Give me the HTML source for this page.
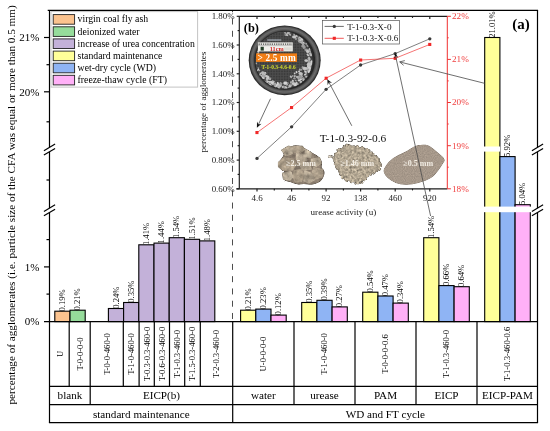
<!DOCTYPE html>
<html><head><meta charset="utf-8"><title>chart</title><style>html,body{margin:0;padding:0;background:#fff}svg{display:block}</style></head><body>
<svg width="550" height="431" viewBox="0 0 550 431" font-family='"Liberation Serif", serif'>
<rect width="550" height="431" fill="#fff"/>
<rect x="54.8" y="311.2" width="15.2" height="10.4" fill="#fbc38f" stroke="#000" stroke-width="1.1"/>
<rect x="70.0" y="310.2" width="15.2" height="11.4" fill="#96dc9b" stroke="#000" stroke-width="1.1"/>
<rect x="108.4" y="308.5" width="15.2" height="13.1" fill="#c3b1d9" stroke="#000" stroke-width="1.1"/>
<rect x="123.6" y="302.5" width="15.2" height="19.1" fill="#c3b1d9" stroke="#000" stroke-width="1.1"/>
<rect x="138.8" y="244.8" width="15.2" height="76.8" fill="#c3b1d9" stroke="#000" stroke-width="1.1"/>
<rect x="154.0" y="243.1" width="15.2" height="78.5" fill="#c3b1d9" stroke="#000" stroke-width="1.1"/>
<rect x="169.2" y="237.7" width="15.2" height="83.9" fill="#c3b1d9" stroke="#000" stroke-width="1.1"/>
<rect x="184.4" y="239.3" width="15.2" height="82.3" fill="#c3b1d9" stroke="#000" stroke-width="1.1"/>
<rect x="199.6" y="240.9" width="15.2" height="80.7" fill="#c3b1d9" stroke="#000" stroke-width="1.1"/>
<rect x="240.6" y="310.2" width="15.2" height="11.4" fill="#ffff99" stroke="#000" stroke-width="1.1"/>
<rect x="255.8" y="309.1" width="15.2" height="12.5" fill="#8fb4f4" stroke="#000" stroke-width="1.1"/>
<rect x="271.0" y="315.1" width="15.2" height="6.5" fill="#ffb0f7" stroke="#000" stroke-width="1.1"/>
<rect x="301.7" y="302.5" width="15.2" height="19.1" fill="#ffff99" stroke="#000" stroke-width="1.1"/>
<rect x="316.9" y="300.3" width="15.2" height="21.3" fill="#8fb4f4" stroke="#000" stroke-width="1.1"/>
<rect x="332.1" y="306.9" width="15.2" height="14.7" fill="#ffb0f7" stroke="#000" stroke-width="1.1"/>
<rect x="362.7" y="292.2" width="15.2" height="29.4" fill="#ffff99" stroke="#000" stroke-width="1.1"/>
<rect x="377.9" y="296.0" width="15.2" height="25.6" fill="#8fb4f4" stroke="#000" stroke-width="1.1"/>
<rect x="393.1" y="303.1" width="15.2" height="18.5" fill="#ffb0f7" stroke="#000" stroke-width="1.1"/>
<rect x="423.7" y="237.7" width="15.2" height="83.9" fill="#ffff99" stroke="#000" stroke-width="1.1"/>
<rect x="438.9" y="285.6" width="15.2" height="36.0" fill="#8fb4f4" stroke="#000" stroke-width="1.1"/>
<rect x="454.1" y="286.7" width="15.2" height="34.9" fill="#ffb0f7" stroke="#000" stroke-width="1.1"/>
<rect x="484.7" y="37.5" width="15.2" height="284.1" fill="#ffff99" stroke="#000" stroke-width="1.1"/>
<rect x="499.9" y="156.6" width="15.2" height="165.0" fill="#8fb4f4" stroke="#000" stroke-width="1.1"/>
<rect x="515.1" y="204.7" width="15.2" height="116.9" fill="#ffb0f7" stroke="#000" stroke-width="1.1"/>
<rect x="483" y="146.5" width="17.2" height="5.1" fill="#fff"/>
<rect x="483" y="206.6" width="48" height="5.6" fill="#fff"/>
<text transform="translate(64.9 311.5) rotate(-90)" font-size="8.6" fill="#000">0.19%</text>
<text transform="translate(80.1 310.5) rotate(-90)" font-size="8.6" fill="#000">0.21%</text>
<text transform="translate(118.5 308.8) rotate(-90)" font-size="8.6" fill="#000">0.24%</text>
<text transform="translate(133.7 302.8) rotate(-90)" font-size="8.6" fill="#000">0.35%</text>
<text transform="translate(148.9 245.1) rotate(-90)" font-size="8.6" fill="#000">1.41%</text>
<text transform="translate(164.1 243.4) rotate(-90)" font-size="8.6" fill="#000">1.44%</text>
<text transform="translate(179.3 238.0) rotate(-90)" font-size="8.6" fill="#000">1.54%</text>
<text transform="translate(194.5 239.6) rotate(-90)" font-size="8.6" fill="#000">1.51%</text>
<text transform="translate(209.7 241.2) rotate(-90)" font-size="8.6" fill="#000">1.48%</text>
<text transform="translate(250.7 310.5) rotate(-90)" font-size="8.6" fill="#000">0.21%</text>
<text transform="translate(265.9 309.4) rotate(-90)" font-size="8.6" fill="#000">0.23%</text>
<text transform="translate(281.1 315.4) rotate(-90)" font-size="8.6" fill="#000">0.12%</text>
<text transform="translate(311.8 302.8) rotate(-90)" font-size="8.6" fill="#000">0.35%</text>
<text transform="translate(327.0 300.6) rotate(-90)" font-size="8.6" fill="#000">0.39%</text>
<text transform="translate(342.2 307.2) rotate(-90)" font-size="8.6" fill="#000">0.27%</text>
<text transform="translate(372.8 292.5) rotate(-90)" font-size="8.6" fill="#000">0.54%</text>
<text transform="translate(388.0 296.3) rotate(-90)" font-size="8.6" fill="#000">0.47%</text>
<text transform="translate(403.2 303.4) rotate(-90)" font-size="8.6" fill="#000">0.34%</text>
<text transform="translate(433.8 238.0) rotate(-90)" font-size="8.6" fill="#000">1.54%</text>
<text transform="translate(449.0 285.9) rotate(-90)" font-size="8.6" fill="#000">0.66%</text>
<text transform="translate(464.2 287.0) rotate(-90)" font-size="8.6" fill="#000">0.64%</text>
<text transform="translate(494.8 37.8) rotate(-90)" font-size="8.6" fill="#000">21.01%</text>
<text transform="translate(510.0 156.9) rotate(-90)" font-size="8.6" fill="#000">5.92%</text>
<text transform="translate(525.2 205.0) rotate(-90)" font-size="8.6" fill="#000">5.04%</text>
<line x1="232.5" y1="11" x2="232.5" y2="321" stroke="#3a3a3a" stroke-width="0.9" stroke-dasharray="6 6.27" stroke-dashoffset="4.77"/>
<g stroke="#000" stroke-width="1.2" fill="none">
<line x1="47.7" y1="10.4" x2="538.1" y2="10.4"/>
<line x1="49.5" y1="10.4" x2="49.5" y2="422.6"/>
<line x1="537.5" y1="10.4" x2="537.5" y2="422.6"/>
<line x1="48.9" y1="422.6" x2="538.1" y2="422.6"/>
<line x1="44.0" y1="321.6" x2="537.5" y2="321.6"/>
<line x1="49.5" y1="386.4" x2="537.5" y2="386.4"/>
<line x1="49.5" y1="404.7" x2="537.5" y2="404.7"/>
<line x1="69.2" y1="321.6" x2="69.2" y2="386.4"/>
<line x1="123.3" y1="321.6" x2="123.3" y2="386.4"/>
<line x1="139.1" y1="321.6" x2="139.1" y2="386.4"/>
<line x1="154.3" y1="321.6" x2="154.3" y2="386.4"/>
<line x1="169.5" y1="321.6" x2="169.5" y2="386.4"/>
<line x1="184.7" y1="321.6" x2="184.7" y2="386.4"/>
<line x1="200.3" y1="321.6" x2="200.3" y2="386.4"/>
<line x1="90.2" y1="321.6" x2="90.2" y2="404.7"/>
<line x1="294.0" y1="321.6" x2="294.0" y2="404.7"/>
<line x1="355.0" y1="321.6" x2="355.0" y2="404.7"/>
<line x1="416.0" y1="321.6" x2="416.0" y2="404.7"/>
<line x1="477.0" y1="321.6" x2="477.0" y2="404.7"/>
<line x1="232.7" y1="321.6" x2="232.7" y2="422.6"/>
<line x1="44.0" y1="37.5" x2="49.5" y2="37.5"/>
<line x1="44.0" y1="91.8" x2="49.5" y2="91.8"/>
<line x1="44.0" y1="266.9" x2="49.5" y2="266.9"/>
<line x1="46.5" y1="64.7" x2="49.5" y2="64.7"/>
<line x1="46.5" y1="121.8" x2="49.5" y2="121.8"/>
<line x1="46.5" y1="180.0" x2="49.5" y2="180.0"/>
<line x1="46.5" y1="239.6" x2="49.5" y2="239.6"/>
<line x1="46.5" y1="294.1" x2="49.5" y2="294.1"/>
</g>
<rect x="47.5" y="147.4" width="4" height="4.4" fill="#fff"/>
<line x1="43.9" y1="150.7" x2="55.1" y2="144.1" stroke="#000" stroke-width="1.2"/>
<line x1="43.9" y1="155.1" x2="55.1" y2="148.5" stroke="#000" stroke-width="1.2"/>
<rect x="47.5" y="208.1" width="4" height="4.4" fill="#fff"/>
<line x1="43.9" y1="211.4" x2="55.1" y2="204.8" stroke="#000" stroke-width="1.2"/>
<line x1="43.9" y1="215.8" x2="55.1" y2="209.2" stroke="#000" stroke-width="1.2"/>
<rect x="535.5" y="147.4" width="4" height="4.4" fill="#fff"/>
<line x1="531.9" y1="150.7" x2="543.1" y2="144.1" stroke="#000" stroke-width="1.2"/>
<line x1="531.9" y1="155.1" x2="543.1" y2="148.5" stroke="#000" stroke-width="1.2"/>
<rect x="535.5" y="208.1" width="4" height="4.4" fill="#fff"/>
<line x1="531.9" y1="211.4" x2="543.1" y2="204.8" stroke="#000" stroke-width="1.2"/>
<line x1="531.9" y1="215.8" x2="543.1" y2="209.2" stroke="#000" stroke-width="1.2"/>
<text x="39.3" y="41.2" font-size="11" text-anchor="end">21%</text>
<text x="39.3" y="95.5" font-size="11" text-anchor="end">20%</text>
<text x="39.3" y="270.6" font-size="11" text-anchor="end">1%</text>
<text x="39.3" y="325.0" font-size="11" text-anchor="end">0%</text>
<text transform="translate(15.4 204.9) rotate(-90)" font-size="11.2" text-anchor="middle">percentage of agglomerates (i.e. particle size of the CFA was equal or more than 0.5 mm)</text>
<text transform="translate(62.5 354.0) rotate(-90)" font-size="8.6" text-anchor="middle">U</text>
<text transform="translate(82.6 354.0) rotate(-90)" font-size="8.6" text-anchor="middle">T-0-0-0-0</text>
<text transform="translate(109.6 354.0) rotate(-90)" font-size="8.6" text-anchor="middle">T-0-0-460-0</text>
<text transform="translate(134.0 354.0) rotate(-90)" font-size="8.6" text-anchor="middle">T-1-0-460-0</text>
<text transform="translate(149.5 354.0) rotate(-90)" font-size="8.6" text-anchor="middle">T-0.3-0.3-460-0</text>
<text transform="translate(164.7 354.0) rotate(-90)" font-size="8.6" text-anchor="middle">T-0.6-0.3-460-0</text>
<text transform="translate(179.9 354.0) rotate(-90)" font-size="8.6" text-anchor="middle">T-1-0.3-460-0</text>
<text transform="translate(195.3 354.0) rotate(-90)" font-size="8.6" text-anchor="middle">T-1.5-0.3-460-0</text>
<text transform="translate(219.3 354.0) rotate(-90)" font-size="8.6" text-anchor="middle">T-2-0.3-460-0</text>
<text transform="translate(266.2 354.0) rotate(-90)" font-size="8.6" text-anchor="middle">U-0-0-0-0</text>
<text transform="translate(327.3 354.0) rotate(-90)" font-size="8.6" text-anchor="middle">T-1-0-460-0</text>
<text transform="translate(388.3 354.0) rotate(-90)" font-size="8.6" text-anchor="middle">T-0-0-0-0.6</text>
<text transform="translate(449.3 354.0) rotate(-90)" font-size="8.6" text-anchor="middle">T-1-0.3-460-0</text>
<text transform="translate(510.3 354.0) rotate(-90)" font-size="8.6" text-anchor="middle">T-1-0.3-460-0.6</text>
<text x="70.0" y="399.2" font-size="11.15" text-anchor="middle">blank</text>
<text x="161.5" y="399.2" font-size="11.15" text-anchor="middle">EICP(b)</text>
<text x="263.4" y="399.2" font-size="11.15" text-anchor="middle">water</text>
<text x="324.5" y="399.2" font-size="11.15" text-anchor="middle">urease</text>
<text x="385.5" y="399.2" font-size="11.15" text-anchor="middle">PAM</text>
<text x="446.5" y="399.2" font-size="11.15" text-anchor="middle">EICP</text>
<text x="507.5" y="399.2" font-size="11.15" text-anchor="middle">EICP-PAM</text>
<text x="141.3" y="417.6" font-size="11.15" text-anchor="middle">standard maintenance</text>
<text x="385.3" y="417.6" font-size="11.15" text-anchor="middle">WD and FT cycle</text>
<rect x="51" y="11.6" width="146.6" height="75.5" fill="#fff" stroke="#c4c4c4" stroke-width="1"/>
<rect x="53.2" y="14.6" width="21.4" height="9.6" fill="#fbc38f" stroke="#222" stroke-width="0.9"/>
<text x="77.6" y="22.3" font-size="9.75">virgin coal fly ash</text>
<rect x="53.2" y="26.8" width="21.4" height="9.6" fill="#96dc9b" stroke="#222" stroke-width="0.9"/>
<text x="77.6" y="34.5" font-size="9.75">deionized water</text>
<rect x="53.2" y="38.9" width="21.4" height="9.6" fill="#c3b1d9" stroke="#222" stroke-width="0.9"/>
<text x="77.6" y="46.6" font-size="9.75">increase of urea concentration</text>
<rect x="53.2" y="51.1" width="21.4" height="9.6" fill="#ffff99" stroke="#222" stroke-width="0.9"/>
<text x="77.6" y="58.8" font-size="9.75">standard maintenance</text>
<rect x="53.2" y="63.2" width="21.4" height="9.6" fill="#8fb4f4" stroke="#222" stroke-width="0.9"/>
<text x="77.6" y="70.9" font-size="9.75">wet-dry cycle (WD)</text>
<rect x="53.2" y="75.3" width="21.4" height="9.6" fill="#ffb0f7" stroke="#222" stroke-width="0.9"/>
<text x="77.6" y="83.0" font-size="9.75">freeze-thaw cycle (FT)</text>
<text x="521" y="29.0" font-size="15" font-weight="bold" text-anchor="middle">(a)</text>
<g stroke="#1c1c1c" stroke-width="1.15" fill="none">
<line x1="239.3" y1="16.3" x2="239.3" y2="188.8"/>
<line x1="239.3" y1="16.3" x2="447.3" y2="16.3"/>
<line x1="236.3" y1="188.8" x2="447.3" y2="188.8"/>
<line x1="236.7" y1="16.3" x2="239.3" y2="16.3"/>
<line x1="237.6" y1="30.6" x2="239.3" y2="30.6"/>
<line x1="236.7" y1="45.0" x2="239.3" y2="45.0"/>
<line x1="237.6" y1="59.4" x2="239.3" y2="59.4"/>
<line x1="236.7" y1="73.8" x2="239.3" y2="73.8"/>
<line x1="237.6" y1="88.1" x2="239.3" y2="88.1"/>
<line x1="236.7" y1="102.5" x2="239.3" y2="102.5"/>
<line x1="237.6" y1="116.9" x2="239.3" y2="116.9"/>
<line x1="236.7" y1="131.3" x2="239.3" y2="131.3"/>
<line x1="237.6" y1="145.7" x2="239.3" y2="145.7"/>
<line x1="236.7" y1="160.1" x2="239.3" y2="160.1"/>
<line x1="237.6" y1="174.4" x2="239.3" y2="174.4"/>
<line x1="236.7" y1="188.8" x2="239.3" y2="188.8"/>
<line x1="257.0" y1="188.8" x2="257.0" y2="191.4"/>
<line x1="257.0" y1="16.3" x2="257.0" y2="19.1"/>
<line x1="274.3" y1="188.8" x2="274.3" y2="190.4"/>
<line x1="274.3" y1="16.3" x2="274.3" y2="17.9"/>
<line x1="291.6" y1="188.8" x2="291.6" y2="191.4"/>
<line x1="291.6" y1="16.3" x2="291.6" y2="19.1"/>
<line x1="308.9" y1="188.8" x2="308.9" y2="190.4"/>
<line x1="308.9" y1="16.3" x2="308.9" y2="17.9"/>
<line x1="326.1" y1="188.8" x2="326.1" y2="191.4"/>
<line x1="326.1" y1="16.3" x2="326.1" y2="19.1"/>
<line x1="343.4" y1="188.8" x2="343.4" y2="190.4"/>
<line x1="343.4" y1="16.3" x2="343.4" y2="17.9"/>
<line x1="360.6" y1="188.8" x2="360.6" y2="191.4"/>
<line x1="360.6" y1="16.3" x2="360.6" y2="19.1"/>
<line x1="377.9" y1="188.8" x2="377.9" y2="190.4"/>
<line x1="377.9" y1="16.3" x2="377.9" y2="17.9"/>
<line x1="395.2" y1="188.8" x2="395.2" y2="191.4"/>
<line x1="395.2" y1="16.3" x2="395.2" y2="19.1"/>
<line x1="412.5" y1="188.8" x2="412.5" y2="190.4"/>
<line x1="412.5" y1="16.3" x2="412.5" y2="17.9"/>
<line x1="429.8" y1="188.8" x2="429.8" y2="191.4"/>
<line x1="429.8" y1="16.3" x2="429.8" y2="19.1"/>
</g>
<g stroke="#f03030" stroke-width="1" fill="none">
<line x1="447.3" y1="16.3" x2="447.3" y2="188.8"/>
<line x1="447.3" y1="16.3" x2="450.9" y2="16.3"/>
<line x1="447.3" y1="37.8" x2="448.7" y2="37.8"/>
<line x1="447.3" y1="59.4" x2="450.9" y2="59.4"/>
<line x1="447.3" y1="80.9" x2="448.7" y2="80.9"/>
<line x1="447.3" y1="102.5" x2="450.9" y2="102.5"/>
<line x1="447.3" y1="124.0" x2="448.7" y2="124.0"/>
<line x1="447.3" y1="145.7" x2="450.9" y2="145.7"/>
<line x1="447.3" y1="167.2" x2="448.7" y2="167.2"/>
<line x1="447.3" y1="188.8" x2="450.9" y2="188.8"/>
</g>
<text x="452" y="19.1" font-size="9.2" fill="#f04040">22%</text>
<text x="452" y="62.2" font-size="9.2" fill="#f04040">21%</text>
<text x="452" y="105.3" font-size="9.2" fill="#f04040">20%</text>
<text x="452" y="148.5" font-size="9.2" fill="#f04040">19%</text>
<text x="452" y="191.6" font-size="9.2" fill="#f04040">18%</text>
<text x="234.6" y="19.1" font-size="8.9" text-anchor="end" fill="#222">1.80%</text>
<text x="234.6" y="47.8" font-size="8.9" text-anchor="end" fill="#222">1.60%</text>
<text x="234.6" y="76.6" font-size="8.9" text-anchor="end" fill="#222">1.40%</text>
<text x="234.6" y="105.3" font-size="8.9" text-anchor="end" fill="#222">1.20%</text>
<text x="234.6" y="134.1" font-size="8.9" text-anchor="end" fill="#222">1.00%</text>
<text x="234.6" y="162.9" font-size="8.9" text-anchor="end" fill="#222">0.80%</text>
<text x="234.6" y="191.6" font-size="8.9" text-anchor="end" fill="#222">0.60%</text>
<text x="257.0" y="200.9" font-size="9.0" text-anchor="middle" fill="#222">4.6</text>
<text x="291.6" y="200.9" font-size="9.0" text-anchor="middle" fill="#222">46</text>
<text x="326.1" y="200.9" font-size="9.0" text-anchor="middle" fill="#222">92</text>
<text x="360.6" y="200.9" font-size="9.0" text-anchor="middle" fill="#222">138</text>
<text x="395.2" y="200.9" font-size="9.0" text-anchor="middle" fill="#222">460</text>
<text x="429.8" y="200.9" font-size="9.0" text-anchor="middle" fill="#222">920</text>
<text x="343.4" y="215.4" font-size="9.1" text-anchor="middle" fill="#222">urease activity (u)</text>
<text transform="translate(206.4 102.1) rotate(-90)" font-size="9.2" text-anchor="middle" fill="#222">percentage of agglomerates</text>
<defs>
<radialGradient id="sv" cx="0.5" cy="0.5" r="0.5"><stop offset="0" stop-color="#333"/><stop offset="0.79" stop-color="#2a2a2a"/><stop offset="0.83" stop-color="#262626"/><stop offset="0.865" stop-color="#525252"/><stop offset="0.91" stop-color="#6c6c6c"/><stop offset="0.95" stop-color="#545454"/><stop offset="0.98" stop-color="#2c2c2c"/><stop offset="1" stop-color="#262626"/></radialGradient>
<pattern id="mesh" width="1.6" height="1.6" patternUnits="userSpaceOnUse"><rect width="1.6" height="1.6" fill="#353535"/><path d="M0 0.4H1.6M0.4 0V1.6" stroke="#555" stroke-width="0.5"/></pattern>
<filter id="tx1" x="-10%" y="-10%" width="120%" height="120%" color-interpolation-filters="sRGB">
<feTurbulence type="fractalNoise" baseFrequency="0.35" numOctaves="2" seed="14" result="e"/>
<feDisplacementMap in="SourceGraphic" in2="e" scale="1.6" xChannelSelector="R" yChannelSelector="G" result="s"/>
<feTurbulence type="fractalNoise" baseFrequency="0.2" numOctaves="3" seed="11" result="n"/>
<feColorMatrix in="n" type="matrix" values="0.6 0.4 0 0 0  0.6 0.4 0 0 0  0.6 0.4 0 0 0  0 0 0 0 1" result="g"/>
<feComposite in="s" in2="g" operator="arithmetic" k1="0.8" k2="0.6" k3="0" k4="0" result="m"/>
<feGaussianBlur in="m" stdDeviation="0.35"/>
</filter>
<filter id="tx2" x="-10%" y="-10%" width="120%" height="120%" color-interpolation-filters="sRGB">
<feTurbulence type="fractalNoise" baseFrequency="0.35" numOctaves="2" seed="8" result="e"/>
<feDisplacementMap in="SourceGraphic" in2="e" scale="0.8" xChannelSelector="R" yChannelSelector="G" result="s"/>
<feTurbulence type="fractalNoise" baseFrequency="0.42" numOctaves="2" seed="5" result="n"/>
<feColorMatrix in="n" type="matrix" values="0.6 0.4 0 0 0  0.6 0.4 0 0 0  0.6 0.4 0 0 0  0 0 0 0 1" result="g"/>
<feComposite in="s" in2="g" operator="arithmetic" k1="1.1" k2="0.46" k3="0" k4="0" result="m"/>
<feGaussianBlur in="m" stdDeviation="0.35"/>
</filter>
<filter id="tx3" x="-10%" y="-10%" width="120%" height="120%" color-interpolation-filters="sRGB">
<feTurbulence type="fractalNoise" baseFrequency="0.35" numOctaves="2" seed="12" result="e"/>
<feDisplacementMap in="SourceGraphic" in2="e" scale="1.0" xChannelSelector="R" yChannelSelector="G" result="s"/>
<feTurbulence type="fractalNoise" baseFrequency="0.9" numOctaves="1" seed="9" result="n"/>
<feColorMatrix in="n" type="matrix" values="0.6 0.4 0 0 0  0.6 0.4 0 0 0  0.6 0.4 0 0 0  0 0 0 0 1" result="g"/>
<feComposite in="s" in2="g" operator="arithmetic" k1="0.4" k2="0.8" k3="0" k4="0" result="m"/>
<feGaussianBlur in="m" stdDeviation="0.35"/>
</filter>
<filter id="soft" x="-5%" y="-5%" width="110%" height="110%"><feGaussianBlur stdDeviation="0.4"/></filter>
<clipPath id="svc"><circle cx="283.9" cy="60.2" r="28.6"/></clipPath>
</defs>
<g filter="url(#soft)">
<ellipse cx="284.7" cy="60.3" rx="36.0" ry="34.9" fill="url(#sv)"/>
<circle cx="283.9" cy="60.2" r="28.6" fill="url(#mesh)"/>
<g clip-path="url(#svc)">
<ellipse cx="291.0" cy="82.4" rx="1.4" ry="0.8" transform="rotate(96 291.0 82.4)" fill="#c8c8c8"/>
<ellipse cx="278.1" cy="87.3" rx="0.9" ry="0.8" transform="rotate(75 278.1 87.3)" fill="#a6a6a6"/>
<ellipse cx="301.4" cy="78.0" rx="1.5" ry="0.8" transform="rotate(40 301.4 78.0)" fill="#d4d4d4"/>
<ellipse cx="263.0" cy="75.4" rx="1.1" ry="1.7" transform="rotate(8 263.0 75.4)" fill="#a6a6a6"/>
<ellipse cx="292.5" cy="81.9" rx="0.8" ry="1.0" transform="rotate(146 292.5 81.9)" fill="#a6a6a6"/>
<ellipse cx="301.5" cy="79.0" rx="0.9" ry="0.8" transform="rotate(128 301.5 79.0)" fill="#d4d4d4"/>
<ellipse cx="301.5" cy="76.0" rx="1.4" ry="1.1" transform="rotate(56 301.5 76.0)" fill="#d4d4d4"/>
<ellipse cx="264.8" cy="75.6" rx="0.9" ry="0.9" transform="rotate(140 264.8 75.6)" fill="#b9b9b9"/>
<ellipse cx="279.0" cy="85.2" rx="1.6" ry="1.4" transform="rotate(51 279.0 85.2)" fill="#b9b9b9"/>
<ellipse cx="300.4" cy="78.9" rx="1.5" ry="0.9" transform="rotate(88 300.4 78.9)" fill="#b9b9b9"/>
<ellipse cx="265.0" cy="73.2" rx="1.3" ry="1.5" transform="rotate(147 265.0 73.2)" fill="#c8c8c8"/>
<ellipse cx="273.0" cy="83.7" rx="1.3" ry="1.2" transform="rotate(151 273.0 83.7)" fill="#c8c8c8"/>
<ellipse cx="284.1" cy="86.5" rx="0.8" ry="1.4" transform="rotate(116 284.1 86.5)" fill="#9a9a9a"/>
<ellipse cx="293.3" cy="83.1" rx="1.4" ry="0.7" transform="rotate(83 293.3 83.1)" fill="#a6a6a6"/>
<ellipse cx="277.2" cy="84.6" rx="0.9" ry="1.0" transform="rotate(132 277.2 84.6)" fill="#9a9a9a"/>
<ellipse cx="288.7" cy="87.2" rx="0.8" ry="1.1" transform="rotate(98 288.7 87.2)" fill="#a6a6a6"/>
<ellipse cx="266.6" cy="81.4" rx="1.0" ry="1.1" transform="rotate(64 266.6 81.4)" fill="#9a9a9a"/>
<ellipse cx="264.7" cy="73.6" rx="0.9" ry="0.9" transform="rotate(42 264.7 73.6)" fill="#9a9a9a"/>
<ellipse cx="268.6" cy="78.1" rx="1.0" ry="0.8" transform="rotate(96 268.6 78.1)" fill="#d4d4d4"/>
<ellipse cx="279.0" cy="87.7" rx="1.4" ry="1.2" transform="rotate(111 279.0 87.7)" fill="#b9b9b9"/>
<ellipse cx="285.1" cy="87.6" rx="1.7" ry="1.4" transform="rotate(100 285.1 87.6)" fill="#9a9a9a"/>
<ellipse cx="287.6" cy="83.0" rx="1.3" ry="0.8" transform="rotate(12 287.6 83.0)" fill="#a6a6a6"/>
<ellipse cx="285.6" cy="83.3" rx="1.3" ry="0.8" transform="rotate(102 285.6 83.3)" fill="#d4d4d4"/>
<ellipse cx="300.8" cy="78.1" rx="0.7" ry="1.6" transform="rotate(110 300.8 78.1)" fill="#a6a6a6"/>
<ellipse cx="275.3" cy="86.8" rx="1.3" ry="1.2" transform="rotate(20 275.3 86.8)" fill="#9a9a9a"/>
<ellipse cx="262.3" cy="73.1" rx="1.2" ry="0.8" transform="rotate(18 262.3 73.1)" fill="#c8c8c8"/>
<ellipse cx="271.2" cy="82.0" rx="1.4" ry="1.2" transform="rotate(36 271.2 82.0)" fill="#d4d4d4"/>
<ellipse cx="290.0" cy="85.9" rx="1.6" ry="1.5" transform="rotate(53 290.0 85.9)" fill="#b9b9b9"/>
<ellipse cx="273.7" cy="81.9" rx="1.1" ry="0.9" transform="rotate(138 273.7 81.9)" fill="#d4d4d4"/>
<ellipse cx="280.7" cy="85.4" rx="1.3" ry="1.3" transform="rotate(141 280.7 85.4)" fill="#a6a6a6"/>
<ellipse cx="267.3" cy="81.7" rx="1.4" ry="0.9" transform="rotate(93 267.3 81.7)" fill="#c8c8c8"/>
<ellipse cx="270.2" cy="84.8" rx="1.5" ry="1.2" transform="rotate(34 270.2 84.8)" fill="#d4d4d4"/>
<ellipse cx="263.4" cy="74.6" rx="1.6" ry="1.7" transform="rotate(171 263.4 74.6)" fill="#c8c8c8"/>
<ellipse cx="300.4" cy="76.3" rx="1.2" ry="1.0" transform="rotate(86 300.4 76.3)" fill="#d4d4d4"/>
<ellipse cx="267.1" cy="79.1" rx="1.4" ry="1.5" transform="rotate(15 267.1 79.1)" fill="#b9b9b9"/>
<ellipse cx="263.4" cy="77.7" rx="1.5" ry="1.2" transform="rotate(32 263.4 77.7)" fill="#c8c8c8"/>
<ellipse cx="303.6" cy="79.9" rx="1.4" ry="1.2" transform="rotate(133 303.6 79.9)" fill="#b9b9b9"/>
<ellipse cx="272.8" cy="80.9" rx="0.8" ry="0.9" transform="rotate(162 272.8 80.9)" fill="#a6a6a6"/>
<ellipse cx="277.1" cy="85.2" rx="1.2" ry="1.6" transform="rotate(28 277.1 85.2)" fill="#d4d4d4"/>
<ellipse cx="298.4" cy="77.5" rx="1.7" ry="1.3" transform="rotate(94 298.4 77.5)" fill="#a6a6a6"/>
<ellipse cx="286.3" cy="87.6" rx="1.5" ry="0.9" transform="rotate(45 286.3 87.6)" fill="#c8c8c8"/>
<ellipse cx="282.7" cy="87.0" rx="1.0" ry="1.2" transform="rotate(150 282.7 87.0)" fill="#b9b9b9"/>
<ellipse cx="265.2" cy="76.1" rx="1.2" ry="1.3" transform="rotate(162 265.2 76.1)" fill="#9a9a9a"/>
<ellipse cx="266.2" cy="81.2" rx="0.8" ry="0.9" transform="rotate(91 266.2 81.2)" fill="#9a9a9a"/>
<ellipse cx="269.3" cy="81.7" rx="1.5" ry="0.8" transform="rotate(25 269.3 81.7)" fill="#d4d4d4"/>
<ellipse cx="271.7" cy="82.8" rx="1.0" ry="1.2" transform="rotate(99 271.7 82.8)" fill="#b9b9b9"/>
<ellipse cx="267.3" cy="75.9" rx="0.9" ry="0.7" transform="rotate(17 267.3 75.9)" fill="#9a9a9a"/>
<ellipse cx="279.4" cy="86.7" rx="1.6" ry="1.1" transform="rotate(110 279.4 86.7)" fill="#d4d4d4"/>
<ellipse cx="277.9" cy="83.1" rx="1.0" ry="1.2" transform="rotate(145 277.9 83.1)" fill="#d4d4d4"/>
<ellipse cx="262.7" cy="76.0" rx="1.6" ry="1.6" transform="rotate(46 262.7 76.0)" fill="#d4d4d4"/>
<ellipse cx="266.4" cy="76.1" rx="1.1" ry="1.1" transform="rotate(70 266.4 76.1)" fill="#c8c8c8"/>
<ellipse cx="301.3" cy="76.6" rx="0.8" ry="1.4" transform="rotate(141 301.3 76.6)" fill="#a6a6a6"/>
<ellipse cx="263.0" cy="75.9" rx="1.1" ry="1.0" transform="rotate(24 263.0 75.9)" fill="#9a9a9a"/>
<ellipse cx="297.8" cy="84.4" rx="1.1" ry="1.2" transform="rotate(178 297.8 84.4)" fill="#a6a6a6"/>
<ellipse cx="298.7" cy="80.3" rx="1.2" ry="1.0" transform="rotate(35 298.7 80.3)" fill="#c8c8c8"/>
<ellipse cx="301.1" cy="77.8" rx="1.0" ry="1.2" transform="rotate(126 301.1 77.8)" fill="#9a9a9a"/>
<ellipse cx="291.5" cy="85.1" rx="1.2" ry="0.8" transform="rotate(177 291.5 85.1)" fill="#a6a6a6"/>
<ellipse cx="264.6" cy="72.9" rx="1.0" ry="0.7" transform="rotate(140 264.6 72.9)" fill="#c8c8c8"/>
<ellipse cx="269.5" cy="83.3" rx="1.5" ry="1.4" transform="rotate(170 269.5 83.3)" fill="#9a9a9a"/>
<ellipse cx="300.9" cy="82.1" rx="1.3" ry="1.4" transform="rotate(16 300.9 82.1)" fill="#b9b9b9"/>
<ellipse cx="269.7" cy="79.0" rx="1.6" ry="1.0" transform="rotate(3 269.7 79.0)" fill="#b9b9b9"/>
<ellipse cx="270.0" cy="78.5" rx="1.6" ry="0.8" transform="rotate(155 270.0 78.5)" fill="#9a9a9a"/>
<ellipse cx="306.6" cy="76.9" rx="1.1" ry="1.6" transform="rotate(111 306.6 76.9)" fill="#b9b9b9"/>
<ellipse cx="281.6" cy="83.9" rx="0.8" ry="0.9" transform="rotate(9 281.6 83.9)" fill="#a6a6a6"/>
<ellipse cx="263.3" cy="76.2" rx="1.2" ry="0.9" transform="rotate(80 263.3 76.2)" fill="#a6a6a6"/>
<ellipse cx="294.9" cy="85.0" rx="1.7" ry="0.7" transform="rotate(3 294.9 85.0)" fill="#d4d4d4"/>
<ellipse cx="280.5" cy="83.5" rx="1.2" ry="1.6" transform="rotate(19 280.5 83.5)" fill="#9a9a9a"/>
<ellipse cx="274.9" cy="84.2" rx="1.6" ry="1.7" transform="rotate(55 274.9 84.2)" fill="#a6a6a6"/>
<ellipse cx="263.2" cy="73.2" rx="1.5" ry="1.4" transform="rotate(114 263.2 73.2)" fill="#9a9a9a"/>
<ellipse cx="259.9" cy="74.8" rx="1.5" ry="0.7" transform="rotate(112 259.9 74.8)" fill="#c8c8c8"/>
<ellipse cx="286.1" cy="82.9" rx="1.4" ry="1.1" transform="rotate(91 286.1 82.9)" fill="#c8c8c8"/>
<ellipse cx="277.6" cy="85.9" rx="0.7" ry="0.9" transform="rotate(48 277.6 85.9)" fill="#b9b9b9"/>
<ellipse cx="295.6" cy="85.6" rx="1.7" ry="1.2" transform="rotate(44 295.6 85.6)" fill="#c8c8c8"/>
<ellipse cx="295.7" cy="80.6" rx="1.0" ry="0.8" transform="rotate(50 295.7 80.6)" fill="#a6a6a6"/>
<ellipse cx="295.9" cy="84.3" rx="0.8" ry="1.5" transform="rotate(25 295.9 84.3)" fill="#d4d4d4"/>
<ellipse cx="301.3" cy="74.7" rx="1.0" ry="0.9" transform="rotate(105 301.3 74.7)" fill="#d4d4d4"/>
<ellipse cx="267.9" cy="77.3" rx="1.6" ry="1.5" transform="rotate(107 267.9 77.3)" fill="#c8c8c8"/>
<ellipse cx="272.1" cy="82.6" rx="1.0" ry="1.3" transform="rotate(26 272.1 82.6)" fill="#d4d4d4"/>
<ellipse cx="276.0" cy="85.7" rx="1.5" ry="0.8" transform="rotate(94 276.0 85.7)" fill="#d4d4d4"/>
<ellipse cx="279.0" cy="86.9" rx="0.7" ry="1.4" transform="rotate(143 279.0 86.9)" fill="#a6a6a6"/>
<ellipse cx="300.0" cy="76.2" rx="1.3" ry="1.7" transform="rotate(67 300.0 76.2)" fill="#9a9a9a"/>
<ellipse cx="279.7" cy="85.9" rx="1.3" ry="1.4" transform="rotate(88 279.7 85.9)" fill="#b9b9b9"/>
<ellipse cx="284.9" cy="83.1" rx="1.6" ry="1.6" transform="rotate(16 284.9 83.1)" fill="#d4d4d4"/>
<ellipse cx="303.6" cy="78.3" rx="1.0" ry="0.8" transform="rotate(47 303.6 78.3)" fill="#a6a6a6"/>
<ellipse cx="296.4" cy="83.2" rx="1.2" ry="1.5" transform="rotate(13 296.4 83.2)" fill="#c8c8c8"/>
<ellipse cx="269.7" cy="82.0" rx="1.3" ry="0.8" transform="rotate(26 269.7 82.0)" fill="#c8c8c8"/>
<ellipse cx="274.9" cy="85.1" rx="1.3" ry="0.8" transform="rotate(86 274.9 85.1)" fill="#9a9a9a"/>
<ellipse cx="294.6" cy="84.2" rx="1.4" ry="1.4" transform="rotate(52 294.6 84.2)" fill="#d4d4d4"/>
<ellipse cx="293.4" cy="83.5" rx="1.5" ry="1.7" transform="rotate(98 293.4 83.5)" fill="#c8c8c8"/>
<ellipse cx="260.4" cy="75.2" rx="0.7" ry="1.2" transform="rotate(147 260.4 75.2)" fill="#9a9a9a"/>
<ellipse cx="262.7" cy="72.8" rx="1.6" ry="1.6" transform="rotate(13 262.7 72.8)" fill="#b9b9b9"/>
<ellipse cx="299.8" cy="80.1" rx="1.7" ry="0.8" transform="rotate(147 299.8 80.1)" fill="#d4d4d4"/>
<ellipse cx="292.9" cy="81.5" rx="1.1" ry="1.2" transform="rotate(157 292.9 81.5)" fill="#9a9a9a"/>
<ellipse cx="301.7" cy="74.0" rx="1.2" ry="1.2" transform="rotate(54 301.7 74.0)" fill="#a6a6a6"/>
<ellipse cx="287.0" cy="84.7" rx="0.8" ry="1.0" transform="rotate(58 287.0 84.7)" fill="#c8c8c8"/>
<ellipse cx="306.4" cy="68.6" rx="1.5" ry="1.3" transform="rotate(162 306.4 68.6)" fill="#c8c8c8"/>
<ellipse cx="304.0" cy="47.5" rx="1.1" ry="1.5" transform="rotate(13 304.0 47.5)" fill="#9a9a9a"/>
<ellipse cx="310.7" cy="66.4" rx="1.0" ry="0.7" transform="rotate(119 310.7 66.4)" fill="#a6a6a6"/>
<ellipse cx="304.8" cy="46.9" rx="1.2" ry="0.9" transform="rotate(67 304.8 46.9)" fill="#9a9a9a"/>
<ellipse cx="308.7" cy="71.6" rx="1.3" ry="1.5" transform="rotate(169 308.7 71.6)" fill="#d4d4d4"/>
<ellipse cx="303.0" cy="45.9" rx="1.5" ry="1.1" transform="rotate(110 303.0 45.9)" fill="#a6a6a6"/>
<ellipse cx="308.7" cy="61.5" rx="0.7" ry="1.5" transform="rotate(22 308.7 61.5)" fill="#9a9a9a"/>
<ellipse cx="307.6" cy="52.7" rx="0.9" ry="1.4" transform="rotate(117 307.6 52.7)" fill="#9a9a9a"/>
<ellipse cx="308.8" cy="62.0" rx="1.2" ry="1.1" transform="rotate(30 308.8 62.0)" fill="#a6a6a6"/>
<ellipse cx="301.1" cy="40.9" rx="1.4" ry="1.2" transform="rotate(81 301.1 40.9)" fill="#c8c8c8"/>
<ellipse cx="305.0" cy="74.8" rx="0.8" ry="0.9" transform="rotate(16 305.0 74.8)" fill="#c8c8c8"/>
<ellipse cx="308.8" cy="58.0" rx="1.0" ry="1.4" transform="rotate(36 308.8 58.0)" fill="#b9b9b9"/>
<ellipse cx="308.7" cy="65.7" rx="1.1" ry="1.2" transform="rotate(67 308.7 65.7)" fill="#c8c8c8"/>
<ellipse cx="309.1" cy="65.9" rx="1.2" ry="1.0" transform="rotate(123 309.1 65.9)" fill="#d4d4d4"/>
<ellipse cx="311.4" cy="61.0" rx="0.9" ry="0.9" transform="rotate(44 311.4 61.0)" fill="#9a9a9a"/>
<ellipse cx="309.4" cy="61.6" rx="1.0" ry="1.4" transform="rotate(174 309.4 61.6)" fill="#a6a6a6"/>
<ellipse cx="300.4" cy="39.0" rx="1.5" ry="1.1" transform="rotate(105 300.4 39.0)" fill="#b9b9b9"/>
<ellipse cx="302.4" cy="39.4" rx="1.5" ry="1.2" transform="rotate(84 302.4 39.4)" fill="#9a9a9a"/>
<ellipse cx="304.1" cy="47.2" rx="0.8" ry="1.2" transform="rotate(122 304.1 47.2)" fill="#9a9a9a"/>
<ellipse cx="302.3" cy="40.2" rx="0.7" ry="0.8" transform="rotate(102 302.3 40.2)" fill="#b9b9b9"/>
<ellipse cx="308.8" cy="61.5" rx="0.8" ry="0.9" transform="rotate(114 308.8 61.5)" fill="#b9b9b9"/>
<ellipse cx="301.2" cy="42.3" rx="1.5" ry="0.9" transform="rotate(46 301.2 42.3)" fill="#d4d4d4"/>
<ellipse cx="298.9" cy="38.9" rx="1.6" ry="1.0" transform="rotate(56 298.9 38.9)" fill="#a6a6a6"/>
<ellipse cx="307.9" cy="55.0" rx="0.9" ry="1.6" transform="rotate(126 307.9 55.0)" fill="#c8c8c8"/>
<ellipse cx="299.6" cy="41.5" rx="1.5" ry="1.3" transform="rotate(14 299.6 41.5)" fill="#a6a6a6"/>
<ellipse cx="311.6" cy="62.7" rx="0.9" ry="0.7" transform="rotate(60 311.6 62.7)" fill="#9a9a9a"/>
<ellipse cx="307.4" cy="50.5" rx="0.7" ry="1.0" transform="rotate(152 307.4 50.5)" fill="#b9b9b9"/>
<ellipse cx="306.4" cy="43.5" rx="1.0" ry="1.4" transform="rotate(41 306.4 43.5)" fill="#a6a6a6"/>
<ellipse cx="307.6" cy="45.9" rx="0.8" ry="1.3" transform="rotate(109 307.6 45.9)" fill="#a6a6a6"/>
<ellipse cx="311.1" cy="54.7" rx="0.8" ry="1.2" transform="rotate(165 311.1 54.7)" fill="#b9b9b9"/>
<ellipse cx="306.7" cy="43.8" rx="0.8" ry="0.7" transform="rotate(10 306.7 43.8)" fill="#9a9a9a"/>
<ellipse cx="309.9" cy="53.5" rx="1.0" ry="0.8" transform="rotate(14 309.9 53.5)" fill="#a6a6a6"/>
<ellipse cx="305.9" cy="49.8" rx="1.5" ry="1.4" transform="rotate(5 305.9 49.8)" fill="#9a9a9a"/>
<ellipse cx="310.2" cy="70.1" rx="1.1" ry="0.8" transform="rotate(14 310.2 70.1)" fill="#b9b9b9"/>
<ellipse cx="309.6" cy="49.1" rx="0.8" ry="1.6" transform="rotate(37 309.6 49.1)" fill="#c8c8c8"/>
<ellipse cx="308.1" cy="66.3" rx="1.4" ry="0.8" transform="rotate(126 308.1 66.3)" fill="#a6a6a6"/>
<ellipse cx="309.8" cy="50.0" rx="0.9" ry="1.0" transform="rotate(161 309.8 50.0)" fill="#b9b9b9"/>
<ellipse cx="308.6" cy="61.0" rx="1.3" ry="1.1" transform="rotate(67 308.6 61.0)" fill="#9a9a9a"/>
<ellipse cx="302.0" cy="39.1" rx="0.9" ry="1.4" transform="rotate(161 302.0 39.1)" fill="#c8c8c8"/>
<ellipse cx="307.1" cy="50.7" rx="1.6" ry="0.7" transform="rotate(134 307.1 50.7)" fill="#c8c8c8"/>
<ellipse cx="305.8" cy="72.0" rx="1.3" ry="1.2" transform="rotate(145 305.8 72.0)" fill="#b9b9b9"/>
<ellipse cx="298.8" cy="40.6" rx="1.1" ry="1.6" transform="rotate(171 298.8 40.6)" fill="#9a9a9a"/>
<ellipse cx="310.6" cy="67.9" rx="1.4" ry="0.8" transform="rotate(89 310.6 67.9)" fill="#b9b9b9"/>
<ellipse cx="309.7" cy="68.2" rx="1.4" ry="1.4" transform="rotate(109 309.7 68.2)" fill="#c8c8c8"/>
<ellipse cx="307.6" cy="70.0" rx="1.4" ry="1.2" transform="rotate(92 307.6 70.0)" fill="#9a9a9a"/>
<ellipse cx="308.0" cy="65.6" rx="0.8" ry="0.7" transform="rotate(99 308.0 65.6)" fill="#c8c8c8"/>
<ellipse cx="303.3" cy="43.6" rx="0.8" ry="0.8" transform="rotate(112 303.3 43.6)" fill="#a6a6a6"/>
<ellipse cx="301.7" cy="41.5" rx="1.3" ry="1.1" transform="rotate(42 301.7 41.5)" fill="#9a9a9a"/>
<ellipse cx="310.8" cy="53.7" rx="0.9" ry="1.2" transform="rotate(139 310.8 53.7)" fill="#b9b9b9"/>
<ellipse cx="307.9" cy="66.7" rx="1.0" ry="0.9" transform="rotate(45 307.9 66.7)" fill="#c8c8c8"/>
<ellipse cx="303.6" cy="45.3" rx="0.9" ry="0.8" transform="rotate(159 303.6 45.3)" fill="#d4d4d4"/>
<ellipse cx="302.6" cy="45.5" rx="0.9" ry="0.9" transform="rotate(94 302.6 45.5)" fill="#b9b9b9"/>
<ellipse cx="312.0" cy="62.1" rx="0.8" ry="1.1" transform="rotate(147 312.0 62.1)" fill="#9a9a9a"/>
<ellipse cx="305.0" cy="71.1" rx="1.0" ry="0.8" transform="rotate(34 305.0 71.1)" fill="#d4d4d4"/>
<ellipse cx="302.8" cy="45.7" rx="1.2" ry="0.9" transform="rotate(108 302.8 45.7)" fill="#b9b9b9"/>
<ellipse cx="302.3" cy="41.4" rx="1.3" ry="0.9" transform="rotate(66 302.3 41.4)" fill="#a6a6a6"/>
<ellipse cx="301.6" cy="38.3" rx="0.7" ry="1.4" transform="rotate(164 301.6 38.3)" fill="#b9b9b9"/>
<ellipse cx="308.0" cy="68.3" rx="1.0" ry="1.3" transform="rotate(14 308.0 68.3)" fill="#b9b9b9"/>
<ellipse cx="308.9" cy="67.6" rx="0.8" ry="0.8" transform="rotate(71 308.9 67.6)" fill="#d4d4d4"/>
<ellipse cx="303.5" cy="43.1" rx="1.3" ry="1.1" transform="rotate(48 303.5 43.1)" fill="#c8c8c8"/>
<ellipse cx="309.3" cy="62.5" rx="0.7" ry="1.4" transform="rotate(159 309.3 62.5)" fill="#9a9a9a"/>
<ellipse cx="310.2" cy="51.9" rx="1.6" ry="1.0" transform="rotate(35 310.2 51.9)" fill="#9a9a9a"/>
<ellipse cx="302.8" cy="46.1" rx="1.5" ry="1.1" transform="rotate(147 302.8 46.1)" fill="#9a9a9a"/>
<ellipse cx="309.1" cy="58.9" rx="1.4" ry="0.8" transform="rotate(9 309.1 58.9)" fill="#a6a6a6"/>
<ellipse cx="311.6" cy="61.5" rx="0.8" ry="1.3" transform="rotate(66 311.6 61.5)" fill="#d4d4d4"/>
<ellipse cx="303.3" cy="44.2" rx="0.8" ry="0.9" transform="rotate(12 303.3 44.2)" fill="#9a9a9a"/>
<ellipse cx="310.7" cy="55.1" rx="1.6" ry="0.9" transform="rotate(22 310.7 55.1)" fill="#b9b9b9"/>
<ellipse cx="305.6" cy="74.2" rx="0.7" ry="1.5" transform="rotate(69 305.6 74.2)" fill="#d4d4d4"/>
<ellipse cx="311.4" cy="63.5" rx="1.3" ry="1.5" transform="rotate(111 311.4 63.5)" fill="#d4d4d4"/>
<ellipse cx="309.4" cy="70.1" rx="0.9" ry="0.9" transform="rotate(71 309.4 70.1)" fill="#d4d4d4"/>
<ellipse cx="302.9" cy="43.7" rx="0.8" ry="1.6" transform="rotate(146 302.9 43.7)" fill="#a6a6a6"/>
<ellipse cx="300.2" cy="39.8" rx="1.4" ry="0.7" transform="rotate(150 300.2 39.8)" fill="#b9b9b9"/>
<ellipse cx="308.0" cy="51.5" rx="1.5" ry="1.4" transform="rotate(116 308.0 51.5)" fill="#c8c8c8"/>
<ellipse cx="309.4" cy="59.1" rx="1.3" ry="1.1" transform="rotate(78 309.4 59.1)" fill="#b9b9b9"/>
<ellipse cx="300.2" cy="37.2" rx="1.1" ry="1.1" transform="rotate(111 300.2 37.2)" fill="#9a9a9a"/>
<ellipse cx="299.2" cy="37.3" rx="0.9" ry="0.6" transform="rotate(64 299.2 37.3)" fill="#c8c8c8"/>
<ellipse cx="286.4" cy="34.2" rx="1.0" ry="0.6" transform="rotate(114 286.4 34.2)" fill="#b9b9b9"/>
<ellipse cx="299.4" cy="39.7" rx="1.1" ry="0.7" transform="rotate(135 299.4 39.7)" fill="#9a9a9a"/>
<ellipse cx="296.3" cy="35.7" rx="0.6" ry="0.6" transform="rotate(110 296.3 35.7)" fill="#b9b9b9"/>
<ellipse cx="288.5" cy="32.4" rx="0.9" ry="1.3" transform="rotate(164 288.5 32.4)" fill="#a6a6a6"/>
<ellipse cx="296.7" cy="36.2" rx="0.8" ry="1.2" transform="rotate(109 296.7 36.2)" fill="#c8c8c8"/>
<ellipse cx="287.8" cy="32.7" rx="0.8" ry="1.2" transform="rotate(25 287.8 32.7)" fill="#d4d4d4"/>
<ellipse cx="300.3" cy="39.7" rx="1.0" ry="1.0" transform="rotate(42 300.3 39.7)" fill="#c8c8c8"/>
<ellipse cx="285.4" cy="35.1" rx="0.7" ry="1.3" transform="rotate(122 285.4 35.1)" fill="#9a9a9a"/>
<ellipse cx="287.9" cy="33.1" rx="0.7" ry="1.0" transform="rotate(114 287.9 33.1)" fill="#c8c8c8"/>
<ellipse cx="300.3" cy="39.8" rx="1.0" ry="1.1" transform="rotate(161 300.3 39.8)" fill="#c8c8c8"/>
<ellipse cx="301.0" cy="39.6" rx="0.9" ry="1.2" transform="rotate(47 301.0 39.6)" fill="#c8c8c8"/>
<ellipse cx="294.4" cy="36.6" rx="1.1" ry="0.9" transform="rotate(31 294.4 36.6)" fill="#b9b9b9"/>
<ellipse cx="290.0" cy="34.5" rx="0.8" ry="1.3" transform="rotate(156 290.0 34.5)" fill="#c8c8c8"/>
<ellipse cx="297.5" cy="36.6" rx="0.8" ry="0.8" transform="rotate(112 297.5 36.6)" fill="#9a9a9a"/>
<ellipse cx="294.1" cy="34.3" rx="0.7" ry="0.8" transform="rotate(117 294.1 34.3)" fill="#b9b9b9"/>
<ellipse cx="285.8" cy="33.7" rx="0.8" ry="1.0" transform="rotate(96 285.8 33.7)" fill="#9a9a9a"/>
<ellipse cx="294.8" cy="35.9" rx="0.7" ry="1.0" transform="rotate(85 294.8 35.9)" fill="#a6a6a6"/>
<ellipse cx="285.1" cy="32.8" rx="1.1" ry="0.9" transform="rotate(11 285.1 32.8)" fill="#a6a6a6"/>
<ellipse cx="299.7" cy="37.8" rx="0.9" ry="0.8" transform="rotate(2 299.7 37.8)" fill="#d4d4d4"/>
<ellipse cx="299.6" cy="38.6" rx="1.0" ry="1.0" transform="rotate(93 299.6 38.6)" fill="#9a9a9a"/>
<ellipse cx="289.4" cy="32.9" rx="0.6" ry="1.0" transform="rotate(73 289.4 32.9)" fill="#a6a6a6"/>
<ellipse cx="287.8" cy="32.6" rx="0.7" ry="1.0" transform="rotate(118 287.8 32.6)" fill="#a6a6a6"/>
<ellipse cx="287.2" cy="35.2" rx="1.0" ry="1.0" transform="rotate(115 287.2 35.2)" fill="#d4d4d4"/>
<ellipse cx="287.8" cy="34.8" rx="0.8" ry="0.6" transform="rotate(160 287.8 34.8)" fill="#9a9a9a"/>
<ellipse cx="295.9" cy="38.8" rx="1.2" ry="1.1" transform="rotate(83 295.9 38.8)" fill="#9a9a9a"/>
<ellipse cx="257.6" cy="70.4" rx="0.7" ry="0.9" transform="rotate(22 257.6 70.4)" fill="#c8c8c8"/>
<ellipse cx="257.1" cy="57.6" rx="0.8" ry="0.8" transform="rotate(141 257.1 57.6)" fill="#d4d4d4"/>
<ellipse cx="258.3" cy="51.6" rx="1.1" ry="1.0" transform="rotate(15 258.3 51.6)" fill="#d4d4d4"/>
<ellipse cx="260.4" cy="73.4" rx="0.6" ry="0.9" transform="rotate(170 260.4 73.4)" fill="#c8c8c8"/>
<ellipse cx="258.4" cy="69.7" rx="0.9" ry="0.7" transform="rotate(153 258.4 69.7)" fill="#d4d4d4"/>
<ellipse cx="256.2" cy="63.4" rx="0.9" ry="1.0" transform="rotate(78 256.2 63.4)" fill="#a6a6a6"/>
<ellipse cx="256.9" cy="60.9" rx="0.6" ry="0.9" transform="rotate(14 256.9 60.9)" fill="#a6a6a6"/>
<ellipse cx="259.4" cy="70.5" rx="0.6" ry="1.1" transform="rotate(62 259.4 70.5)" fill="#a6a6a6"/>
<ellipse cx="257.5" cy="57.9" rx="0.6" ry="0.9" transform="rotate(7 257.5 57.9)" fill="#b9b9b9"/>
<ellipse cx="257.5" cy="57.0" rx="0.9" ry="0.7" transform="rotate(147 257.5 57.0)" fill="#d4d4d4"/>
<ellipse cx="258.1" cy="53.5" rx="1.0" ry="1.0" transform="rotate(169 258.1 53.5)" fill="#b9b9b9"/>
<ellipse cx="258.3" cy="68.3" rx="0.5" ry="1.1" transform="rotate(164 258.3 68.3)" fill="#b9b9b9"/>
<ellipse cx="293.9" cy="78.4" rx="0.8" ry="0.7" transform="rotate(17 293.9 78.4)" fill="#a6a6a6"/>
<ellipse cx="299.5" cy="71.0" rx="0.8" ry="0.8" transform="rotate(167 299.5 71.0)" fill="#b9b9b9"/>
<ellipse cx="294.7" cy="76.1" rx="0.8" ry="1.3" transform="rotate(90 294.7 76.1)" fill="#c8c8c8"/>
<ellipse cx="294.7" cy="73.5" rx="0.9" ry="0.9" transform="rotate(139 294.7 73.5)" fill="#c8c8c8"/>
<ellipse cx="296.5" cy="72.1" rx="1.0" ry="1.1" transform="rotate(149 296.5 72.1)" fill="#d4d4d4"/>
<ellipse cx="292.6" cy="76.0" rx="0.6" ry="0.7" transform="rotate(137 292.6 76.0)" fill="#b9b9b9"/>
<ellipse cx="302.6" cy="67.1" rx="0.9" ry="1.2" transform="rotate(33 302.6 67.1)" fill="#9a9a9a"/>
<ellipse cx="298.6" cy="77.5" rx="1.0" ry="1.0" transform="rotate(28 298.6 77.5)" fill="#a6a6a6"/>
<ellipse cx="291.1" cy="77.1" rx="0.7" ry="1.3" transform="rotate(138 291.1 77.1)" fill="#9a9a9a"/>
<ellipse cx="294.7" cy="78.4" rx="1.2" ry="1.0" transform="rotate(64 294.7 78.4)" fill="#9a9a9a"/>
<ellipse cx="292.8" cy="80.7" rx="1.1" ry="0.9" transform="rotate(116 292.8 80.7)" fill="#c8c8c8"/>
<ellipse cx="299.9" cy="69.6" rx="1.2" ry="1.0" transform="rotate(68 299.9 69.6)" fill="#a6a6a6"/>
<ellipse cx="290.8" cy="76.6" rx="1.0" ry="1.1" transform="rotate(108 290.8 76.6)" fill="#b9b9b9"/>
<ellipse cx="299.0" cy="71.7" rx="0.7" ry="1.2" transform="rotate(119 299.0 71.7)" fill="#c8c8c8"/>
<ellipse cx="301.2" cy="69.6" rx="1.1" ry="1.0" transform="rotate(22 301.2 69.6)" fill="#9a9a9a"/>
<ellipse cx="296.9" cy="76.9" rx="1.0" ry="0.8" transform="rotate(135 296.9 76.9)" fill="#d4d4d4"/>
<ellipse cx="309.3" cy="64.4" rx="2.6" ry="1.9" fill="#c4c4c4"/>
<ellipse cx="304.6" cy="68.4" rx="2.2" ry="1.6" fill="#c4c4c4"/>
<ellipse cx="306.2" cy="60.6" rx="1.8" ry="1.4" fill="#c4c4c4"/>
<ellipse cx="300.5" cy="73.5" rx="2.0" ry="1.5" fill="#c4c4c4"/>
<ellipse cx="294.2" cy="37.0" rx="2.2" ry="1.4" fill="#c4c4c4"/>
</g>
<rect x="267.3" y="39.5" width="14" height="1" fill="#bcc6d2"/>
<rect x="257.9" y="42.4" width="34.9" height="9" fill="#f1f1ec"/>
<line x1="258.5" y1="44.1" x2="292.2" y2="44.1" stroke="#444" stroke-width="1.1" stroke-dasharray="1.3 0.9"/>
<rect x="257.9" y="45.4" width="34.9" height="0.7" fill="#a5a5a5"/>
<rect x="260.6" y="46.8" width="3.2" height="3.8" fill="#27402a"/>
<rect x="283.8" y="47.2" width="8" height="3.2" fill="#dcdcd6"/>
<text x="276.7" y="51.1" font-size="6.2" font-weight="bold" fill="#d21f1f" text-anchor="middle">11cm</text>
</g>
<rect x="256.1" y="53.4" width="40.9" height="8.5" fill="#f17d14"/>
<text x="276.6" y="61.0" font-size="9.3" font-weight="bold" fill="#fff" text-anchor="middle" textLength="38.2">&gt; 2.5 mm</text>
<text x="278.6" y="68.9" font-size="5.4" font-weight="bold" fill="#d6e02c" text-anchor="middle" textLength="34">T-1-0.3-4.6-0.6</text>
<text x="251.4" y="31.6" font-size="12.4" font-weight="bold" text-anchor="middle">(b)</text>
<g filter="url(#tx1)">
<path d="M283.1 151.9 Q281.8 150.3 285.1 148.2 Q288.4 146.2 293.3 145.8 Q298.2 145.4 301.4 147.0 Q304.7 148.6 308.0 150.6 Q311.3 152.7 315.0 154.8 Q318.6 156.8 319.9 159.7 Q321.1 162.5 320.3 164.6 Q319.5 166.6 321.6 168.2 Q323.6 169.9 322.8 173.6 Q321.9 177.3 319.4 179.4 Q317.0 181.4 313.3 182.2 Q309.6 183.0 306.4 182.6 Q303.1 182.2 299.8 182.6 Q296.5 183.0 293.2 181.6 Q290.0 180.2 286.8 179.6 Q283.5 178.9 283.1 176.1 Q282.6 173.2 283.9 171.6 Q285.1 169.9 281.8 168.2 Q278.5 166.6 278.1 164.6 Q277.7 162.5 279.8 160.1 Q281.8 157.6 283.1 155.6 Q284.3 153.5 283.1 151.9 Z" fill="#85786a" transform="translate(301 165.2) scale(1.03 1.05) translate(-300.3 -164.4)"/>
<polygon points="281.8,150.3 288.4,146.2 294.1,147.0 292.5,153.5 285.9,156.0" fill="#b4a793" stroke="#b4a793" stroke-width="1.1" stroke-linejoin="round"/>
<polygon points="293.3,146.2 302.3,146.2 304.7,149.5 299.8,152.7 294.1,151.9" fill="#ad9f8b" stroke="#ad9f8b" stroke-width="1.1" stroke-linejoin="round"/>
<polygon points="305.6,149.5 311.3,152.7 310.5,157.6 304.7,156.8" fill="#b9ad99" stroke="#b9ad99" stroke-width="1.1" stroke-linejoin="round"/>
<polygon points="278.5,162.5 284.3,157.6 293.3,159.3 296.5,164.2 292.5,169.9 283.5,170.7 278.5,166.6" fill="#a89a86" stroke="#a89a86" stroke-width="1.1" stroke-linejoin="round"/>
<polygon points="296.5,153.5 304.7,154.4 307.2,160.1 300.6,162.5 296.5,159.3" fill="#b0a390" stroke="#b0a390" stroke-width="1.1" stroke-linejoin="round"/>
<polygon points="311.3,159.3 319.5,157.6 321.1,163.4 316.2,166.6 311.3,165.0" fill="#b4a793" stroke="#b4a793" stroke-width="1.1" stroke-linejoin="round"/>
<polygon points="313.7,167.5 322.7,169.9 321.9,177.3 315.4,178.9 312.1,174.0" fill="#ad9f8b" stroke="#ad9f8b" stroke-width="1.1" stroke-linejoin="round"/>
<polygon points="282.6,173.2 290.0,171.6 293.3,176.5 290.0,180.2 283.5,178.9" fill="#b9ad99" stroke="#b9ad99" stroke-width="1.1" stroke-linejoin="round"/>
<polygon points="294.1,170.7 301.5,169.1 303.9,174.8 301.5,181.4 295.7,182.2 293.3,177.3" fill="#a89a86" stroke="#a89a86" stroke-width="1.1" stroke-linejoin="round"/>
<polygon points="304.7,170.7 311.3,173.2 314.6,179.7 308.8,183.0 303.9,180.9" fill="#b0a390" stroke="#b0a390" stroke-width="1.1" stroke-linejoin="round"/>
<polygon points="298.2,163.4 308.8,162.5 311.3,169.1 303.1,169.9" fill="#b4a793" stroke="#b4a793" stroke-width="1.1" stroke-linejoin="round"/>
</g>
<g filter="url(#tx2)"><path d="M334.4 157.5 Q335.0 154.5 337.4 151.6 Q339.7 148.6 343.9 146.8 Q348.0 145.1 352.8 145.7 Q357.5 146.3 361.6 147.4 Q365.7 148.6 369.2 151.0 Q372.8 153.4 375.8 156.4 Q378.7 159.3 379.9 162.2 Q381.1 165.2 379.9 167.6 Q378.7 169.9 375.1 171.7 Q371.6 173.5 369.2 175.2 Q366.9 177.0 365.1 179.3 Q363.4 181.7 359.2 182.3 Q355.1 182.9 351.0 181.8 Q346.8 180.6 344.5 178.8 Q342.1 177.0 340.3 174.1 Q338.5 171.1 337.4 168.1 Q336.2 165.2 335.0 162.8 Q333.8 160.5 334.4 157.5 Z" fill="#b0a490"/>
<circle cx="335.5" cy="154.5" r="1.1" fill="#b0a490"/>
<circle cx="336.9" cy="153.2" r="1.1" fill="#b0a490"/>
<circle cx="337.5" cy="150.0" r="1.0" fill="#b0a490"/>
<circle cx="338.5" cy="149.7" r="0.9" fill="#b0a490"/>
<circle cx="339.5" cy="149.2" r="1.2" fill="#b0a490"/>
<circle cx="343.8" cy="146.2" r="1.0" fill="#b0a490"/>
<circle cx="344.3" cy="147.1" r="1.0" fill="#b0a490"/>
<circle cx="346.8" cy="145.2" r="1.4" fill="#b0a490"/>
<circle cx="349.2" cy="145.0" r="1.1" fill="#b0a490"/>
<circle cx="350.1" cy="146.0" r="0.9" fill="#b0a490"/>
<circle cx="354.1" cy="146.7" r="1.3" fill="#b0a490"/>
<circle cx="357.3" cy="146.4" r="1.2" fill="#b0a490"/>
<circle cx="357.7" cy="146.9" r="0.9" fill="#b0a490"/>
<circle cx="362.1" cy="147.3" r="1.0" fill="#b0a490"/>
<circle cx="362.3" cy="148.5" r="1.0" fill="#b0a490"/>
<circle cx="363.1" cy="148.4" r="1.4" fill="#b0a490"/>
<circle cx="366.6" cy="149.3" r="1.2" fill="#b0a490"/>
<circle cx="368.0" cy="150.2" r="1.2" fill="#b0a490"/>
<circle cx="369.0" cy="151.0" r="1.4" fill="#b0a490"/>
<circle cx="371.8" cy="152.3" r="0.9" fill="#b0a490"/>
<circle cx="373.4" cy="153.9" r="1.0" fill="#b0a490"/>
<circle cx="375.6" cy="156.5" r="1.4" fill="#b0a490"/>
<circle cx="377.1" cy="157.7" r="1.2" fill="#b0a490"/>
<circle cx="378.5" cy="158.9" r="0.9" fill="#b0a490"/>
<circle cx="378.7" cy="159.9" r="1.3" fill="#b0a490"/>
<circle cx="379.7" cy="162.5" r="0.8" fill="#b0a490"/>
<circle cx="379.7" cy="162.5" r="0.9" fill="#b0a490"/>
<circle cx="380.3" cy="164.5" r="1.4" fill="#b0a490"/>
<circle cx="380.6" cy="165.7" r="1.4" fill="#b0a490"/>
<circle cx="380.6" cy="166.2" r="0.9" fill="#b0a490"/>
<circle cx="379.9" cy="169.1" r="1.2" fill="#b0a490"/>
<circle cx="379.2" cy="169.8" r="1.0" fill="#b0a490"/>
<circle cx="377.4" cy="170.8" r="0.8" fill="#b0a490"/>
<circle cx="376.4" cy="170.7" r="1.2" fill="#b0a490"/>
<circle cx="374.6" cy="172.4" r="1.0" fill="#b0a490"/>
<circle cx="373.4" cy="173.6" r="0.9" fill="#b0a490"/>
<circle cx="370.8" cy="172.8" r="1.1" fill="#b0a490"/>
<circle cx="370.8" cy="174.7" r="0.9" fill="#b0a490"/>
<circle cx="368.3" cy="175.7" r="0.9" fill="#b0a490"/>
<circle cx="367.4" cy="176.1" r="1.2" fill="#b0a490"/>
<circle cx="365.7" cy="178.0" r="1.3" fill="#b0a490"/>
<circle cx="365.8" cy="178.3" r="1.1" fill="#b0a490"/>
<circle cx="365.5" cy="178.9" r="1.2" fill="#b0a490"/>
<circle cx="364.4" cy="180.5" r="0.8" fill="#b0a490"/>
<circle cx="362.3" cy="182.5" r="1.0" fill="#b0a490"/>
<circle cx="360.4" cy="182.9" r="0.9" fill="#b0a490"/>
<circle cx="358.0" cy="182.9" r="1.4" fill="#b0a490"/>
<circle cx="356.9" cy="182.7" r="1.1" fill="#b0a490"/>
<circle cx="355.5" cy="183.6" r="1.0" fill="#b0a490"/>
<circle cx="353.2" cy="181.5" r="0.8" fill="#b0a490"/>
<circle cx="351.3" cy="182.1" r="1.1" fill="#b0a490"/>
<circle cx="346.8" cy="181.0" r="1.1" fill="#b0a490"/>
<circle cx="346.0" cy="180.0" r="0.9" fill="#b0a490"/>
<circle cx="345.5" cy="179.3" r="1.2" fill="#b0a490"/>
<circle cx="343.8" cy="178.0" r="0.9" fill="#b0a490"/>
<circle cx="342.8" cy="177.8" r="1.4" fill="#b0a490"/>
<circle cx="342.0" cy="176.9" r="1.2" fill="#b0a490"/>
<circle cx="340.8" cy="174.4" r="1.3" fill="#b0a490"/>
<circle cx="340.3" cy="173.4" r="1.2" fill="#b0a490"/>
<circle cx="339.8" cy="172.0" r="1.2" fill="#b0a490"/>
<circle cx="338.8" cy="170.7" r="0.8" fill="#b0a490"/>
<circle cx="337.4" cy="169.0" r="0.9" fill="#b0a490"/>
<circle cx="336.4" cy="167.0" r="1.4" fill="#b0a490"/>
<circle cx="336.3" cy="165.0" r="1.4" fill="#b0a490"/>
<circle cx="335.3" cy="164.1" r="1.2" fill="#b0a490"/>
<circle cx="334.8" cy="163.9" r="1.0" fill="#b0a490"/>
<circle cx="335.4" cy="162.0" r="1.2" fill="#b0a490"/>
<circle cx="334.4" cy="161.1" r="1.0" fill="#b0a490"/>
<circle cx="334.0" cy="159.0" r="1.2" fill="#b0a490"/>
<circle cx="333.7" cy="158.4" r="1.0" fill="#b0a490"/>
<circle cx="335.2" cy="156.5" r="1.3" fill="#b0a490"/>
<circle cx="335.3" cy="153.8" r="1.1" fill="#b0a490"/>
<ellipse cx="330.5" cy="156.6" rx="2.6" ry="1.5" fill="#cfc6b8"/><circle cx="333.4" cy="157.6" r="1" fill="#b5aa98"/></g>
<g filter="url(#tx3)"><path d="M384.6 169.3 Q384.6 167.6 387.0 164.1 Q389.4 160.5 393.5 157.5 Q397.7 154.5 402.4 152.8 Q407.1 151.0 410.1 148.7 Q413.0 146.3 417.1 145.4 Q421.3 144.6 424.6 145.1 Q428.0 145.6 432.4 149.1 Q436.8 152.6 440.2 155.6 Q443.6 158.6 442.3 160.6 Q441.0 162.5 439.1 165.4 Q437.2 168.4 433.9 172.2 Q430.7 176.0 424.2 178.3 Q417.7 180.6 411.8 181.5 Q405.9 182.4 400.6 181.5 Q395.3 180.6 391.8 178.2 Q388.2 175.8 386.4 173.4 Q384.6 171.1 384.6 169.3 Z" fill="#a6988a" transform="translate(414.3 164.6) scale(1.05 1.08) translate(-413.8 -163.4)"/></g>
<text x="301.0" y="166.3" font-size="8" font-weight="bold" fill="#f2ede4" text-anchor="middle" textLength="30">≥2.5 mm</text>
<text x="357.3" y="166.3" font-size="8" font-weight="bold" fill="#f2ede4" text-anchor="middle" textLength="33.8">≥1.46 mm</text>
<text x="418.2" y="166.3" font-size="8" font-weight="bold" fill="#f2ede4" text-anchor="middle" textLength="30">≥0.5 mm</text>
<text x="353" y="141.6" font-size="11.4" text-anchor="middle" fill="#111">T-1-0.3-92-0.6</text>
<polyline points="257.0,158.4 291.6,126.8 326.1,89.3 360.6,65.0 395.2,53.6 429.8,38.8" fill="none" stroke="#555" stroke-width="0.75"/>
<polyline points="257.0,132.6 291.6,107.5 326.1,78.2 360.6,60.0 395.2,58.3 429.8,44.4" fill="none" stroke="#f24545" stroke-width="0.75"/>
<circle cx="257.0" cy="158.4" r="1.65" fill="#3a3a3a"/>
<circle cx="291.6" cy="126.8" r="1.65" fill="#3a3a3a"/>
<circle cx="326.1" cy="89.3" r="1.65" fill="#3a3a3a"/>
<circle cx="360.6" cy="65.0" r="1.65" fill="#3a3a3a"/>
<circle cx="395.2" cy="53.6" r="1.65" fill="#3a3a3a"/>
<circle cx="429.8" cy="38.8" r="1.65" fill="#3a3a3a"/>
<rect x="255.4" y="131.0" width="3.1" height="3.1" fill="#f02828"/>
<rect x="290.0" y="106.0" width="3.1" height="3.1" fill="#f02828"/>
<rect x="324.6" y="76.7" width="3.1" height="3.1" fill="#f02828"/>
<rect x="359.1" y="58.5" width="3.1" height="3.1" fill="#f02828"/>
<rect x="393.6" y="56.8" width="3.1" height="3.1" fill="#f02828"/>
<rect x="428.2" y="42.9" width="3.1" height="3.1" fill="#f02828"/>
<rect x="322.4" y="20.4" width="77" height="23.6" fill="#fff" stroke="#555" stroke-width="0.7"/>
<line x1="324.6" y1="26.4" x2="343.8" y2="26.4" stroke="#444" stroke-width="0.8"/><circle cx="334.3" cy="26.4" r="1.65" fill="#3a3a3a"/>
<line x1="324.6" y1="38.3" x2="343.8" y2="38.3" stroke="#f03030" stroke-width="0.8"/><rect x="332.75" y="36.75" width="3.1" height="3.1" fill="#f02828"/>
<text x="347.2" y="29.6" font-size="9.2" fill="#111">T-1-0.3-X-0</text>
<text x="347.2" y="41.4" font-size="9.2" fill="#111">T-1-0.3-X-0.6</text>
<g stroke="#4a4a4a" stroke-width="0.8" fill="none">
<line x1="270.5" y1="98.7" x2="258.2" y2="125"/>
<line x1="351.8" y1="125.8" x2="328.8" y2="82"/>
<line x1="484.5" y1="83.3" x2="400" y2="62"/>
<line x1="430.6" y1="216" x2="395.8" y2="57"/>
<path d="M404.8 60.6 L399.6 61.9 L403.6 65.3"/>
</g>
<path d="M256.9 127.7 L257.0 121.6 L258.4 124.6 L261.5 123.7 Z" fill="#111"/>
<path d="M327.3 79.2 L332.1 83.0 L328.9 82.3 L327.7 85.3 Z" fill="#111"/>
<path d="M395.2 53.0 L398.3 57.7 L395.9 56.2 L394.3 58.5 Z" fill="#111"/>
</svg>
</body></html>
